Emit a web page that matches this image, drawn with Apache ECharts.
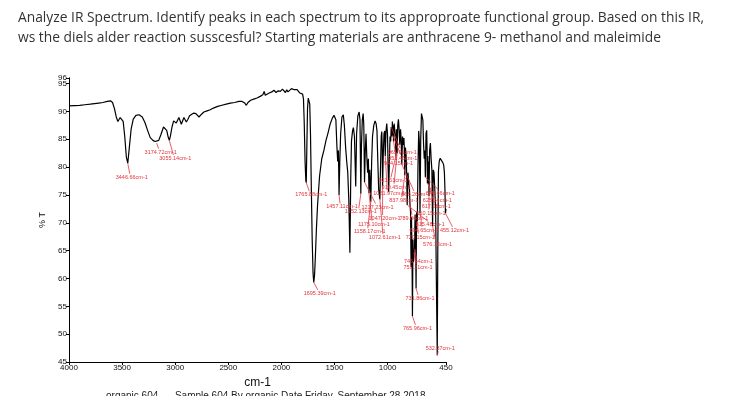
<!DOCTYPE html>
<html>
<head>
<meta charset="utf-8">
<script src="https://cdn.jsdelivr.net/npm/echarts@6/dist/echarts.min.js"></script>
<style>
  html, body { margin: 0; padding: 0; background: #fff; }
  #chart { width: 750px; height: 396px; }
</style>
</head>
<body>
<div id="chart"></div>
<script>
// IR spectrum: [wavenumber cm-1, %T]
const spectrumPoints = [
  [4000, 91.0], [3950, 91.05], [3900, 91.1], [3850, 91.2], [3800, 91.3], [3760, 91.4], [3720, 91.5],
  [3680, 91.6], [3640, 91.8], [3610, 91.9], [3590, 91.6], [3572, 90.5], [3555, 89.0], [3540, 88.2],
  [3528, 88.4], [3518, 88.9], [3505, 89.0], [3490, 88.2], [3475, 85.5], [3460, 81.8], [3446.66, 80.7],
  [3432, 83.5], [3415, 86.8], [3395, 88.6], [3370, 89.3], [3340, 89.4], [3310, 89.0], [3285, 88.0],
  [3260, 86.6], [3235, 85.3], [3210, 84.8], [3190, 84.6], [3174.72, 84.3], [3155, 84.8], [3135, 85.8],
  [3110, 87.2], [3095, 87.4], [3080, 86.6], [3065, 85.3], [3055.14, 84.8], [3045, 85.6], [3030, 87.2],
  [3015, 88.3], [3002, 88.6], [2990, 87.9], [2978, 87.9], [2965, 88.9], [2953, 88.7], [2942, 87.7],
  [2930, 87.8], [2918, 88.9], [2906, 88.8], [2895, 88.1], [2880, 88.6], [2865, 89.2], [2848, 89.5],
  [2825, 89.7], [2805, 89.6], [2790, 89.4], [2776, 89.0], [2766, 88.9], [2752, 89.5], [2730, 89.9],
  [2700, 90.1], [2670, 90.3], [2640, 90.6], [2600, 90.9], [2560, 91.1], [2520, 91.3], [2480, 91.5],
  [2440, 91.6], [2400, 91.8], [2370, 91.8], [2345, 91.5], [2330, 91.1], [2315, 91.6], [2290, 92.0],
  [2260, 92.2], [2230, 92.4], [2200, 92.7], [2175, 93.0], [2162, 93.6], [2152, 92.9], [2140, 93.2],
  [2115, 93.3], [2090, 93.5], [2070, 93.8], [2050, 93.4], [2030, 93.7], [2010, 93.6], [1990, 94.0],
  [1975, 93.8], [1962, 93.4], [1950, 93.9], [1938, 93.5], [1922, 93.8], [1905, 94.1], [1890, 94.4],
  [1878, 93.9], [1866, 93.6], [1852, 93.9], [1840, 93.7], [1826, 93.3], [1812, 93.4], [1800, 93.1],
  [1792, 92.2], [1785, 88.0], [1777, 81.0], [1770, 77.6], [1765.88, 77.2], [1760, 84.0], [1754, 90.5],
  [1747, 92.4], [1740, 92.6], [1733, 91.3], [1726, 86.0], [1718, 76.0], [1710, 67.0], [1702, 61.0],
  [1695.39, 59.3], [1688, 60.5], [1680, 64.0], [1670, 69.0], [1660, 73.0], [1650, 75.8], [1640, 78.5],
  [1620, 81.5], [1600, 83.0], [1580, 84.8], [1560, 86.2], [1540, 87.8], [1520, 88.8], [1505, 89.3],
  [1495, 89.5], [1487, 88.5], [1478, 84.0], [1470, 81.0], [1463, 83.0], [1457.11, 75.0], [1450, 81.0],
  [1442, 86.0], [1430, 89.0], [1417, 89.4], [1407, 87.5], [1395, 83.5], [1385, 81.0], [1375, 79.0],
  [1365, 74.0], [1355.0, 64.6], [1347, 78.0], [1340, 84.7], [1330, 86.5], [1322, 87.1], [1312, 85.5],
  [1300, 76.5], [1292, 86.0], [1280, 89.2], [1268, 89.9], [1260, 88.5], [1252.13, 75.2], [1246, 84.0],
  [1238, 88.5], [1230, 89.6], [1224, 87.5], [1217.23, 77.3], [1210, 83.0], [1203, 86.0], [1196, 82.0],
  [1188, 79.0], [1181, 81.5], [1175.1, 75.3], [1168, 79.5], [1163, 77.0], [1158.17, 73.8], [1150, 81.0],
  [1142, 85.5], [1130, 87.5], [1118, 88.3], [1108, 87.8], [1100, 86.5], [1092, 81.0], [1084, 76.0],
  [1072.61, 74.2], [1066, 80.5], [1060, 85.5], [1055, 86.4], [1051, 84.0], [1047.2, 76.5], [1041, 82.0],
  [1034, 86.0], [1027, 86.5], [1021.97, 82.0], [1015, 86.5], [1008, 87.8], [1001, 86.0], [995, 80.0],
  [989.86, 75.5], [983, 81.0], [977, 85.5], [971, 84.6], [965.91, 87.2], [959, 85.5], [955, 88.2],
  [951.45, 85.7], [947, 87.5], [944.15, 84.6], [938, 87.8], [932, 86.5], [926, 85.2], [921.51, 82.0],
  [916, 86.8], [910.45, 82.5], [904, 87.6], [898, 88.6], [892, 87.0], [885, 84.0], [878, 86.8],
  [872, 85.0], [866.26, 80.5], [859, 85.5], [852, 84.0], [846, 85.2], [842, 83.0], [837.98, 78.5],
  [832, 83.5], [826, 82.2], [820, 78.5], [815.48, 73.2], [808, 79.0], [800, 77.0], [794, 76.0],
  [789.86, 73.5], [784, 72.0], [779, 62.0], [775, 71.0], [770, 64.0], [765.96, 53.2], [761, 67.0],
  [756, 63.0], [751.21, 64.6], [746.44, 65.3], [741, 71.5], [736, 67.0], [731.86, 58.2], [727, 72.0],
  [720.15, 70.3], [714, 80.0], [707, 86.5], [701, 84.5], [694.65, 71.7], [688, 85.0], [681, 89.6],
  [674, 89.8], [668, 88.5], [661, 84.0], [655, 81.5], [649, 83.0], [644.46, 78.2], [638, 86.0],
  [632, 86.6], [628, 83.0], [625.34, 77.1], [621, 82.0], [617.28, 77.0], [613, 81.0], [610.15, 74.8],
  [604, 83.0], [597, 84.3], [590, 81.5], [583, 79.5], [576.18, 69.4], [570, 79.5], [563, 79.0],
  [556, 76.2], [548, 73.0], [541, 60.0], [532.37, 46.2], [527, 66.0], [521, 79.3], [514, 81.0],
  [505, 81.6], [495, 81.8], [488, 81.6], [480, 80.8], [472, 80.4], [465, 79.0], [460, 76.0],
  [455.12, 71.7], [450, 72.5]
];

// labelled peaks
const peakWavenumbers = [
  3446.66, 3174.72, 3055.14, 1765.88, 1695.39, 1457.11, 1252.13, 1217.23, 1175.10, 1158.17,
  1072.61, 1047.20, 789.86, 1021.97, 965.91, 951.45, 944.15, 921.51, 910.45, 866.26,
  837.98, 815.48, 765.96, 751.21, 746.44, 731.86, 720.15, 694.65, 455.12, 644.46,
  625.34, 617.28, 610.15, 576.18, 532.37
];
const peakTransmittance = [
  80.7, 84.3, 84.8, 77.2, 59.3, 75.0, 75.2, 77.3, 75.3, 73.8,
  74.2, 76.5, 73.5, 82.0, 87.2, 85.7, 84.6, 82.0, 82.5, 80.5,
  78.5, 73.2, 53.2, 64.6, 65.3, 58.2, 70.3, 71.7, 71.7, 78.2,
  77.1, 77.0, 74.8, 69.4, 46.2
];
const peakLabels = peakWavenumbers.map(w => w.toFixed(2) + 'cm-1');

// pixel offset of each label from its peak (layout only)
const labelOffsets = [
  [4, 14], [4, 9], [6, 18], [5, 12], [6, 11], [3, 12], [0, 18], [13, 25], [5, 31], [-1, 30],
  [5, 38], [2, 32], [4, 15], [4, 38], [11, 25], [10, 23], [5, 22], [-3, 25], [-1, 34], [14, 30],
  [-1, 25], [23, 20], [5, 12], [4, 15], [4, 13], [4, 10], [3, 16], [4, 17], [9, 17], [15, 16],
  [10, 17], [8, 23], [2, 17], [5, 18], [3, -7]
];

const xTicks = [4000, 3500, 3000, 2500, 2000, 1500, 1000, 450];
const yTicks = [45, 50, 55, 60, 65, 70, 75, 80, 85, 90, 95];
const yTopTick = [96];

const RED = '#e3343c';
const axisFont = "'Liberation Sans Narrow', 'Arial Narrow', 'Liberation Sans', sans-serif";

const yAxisBase = {
  type: 'value', min: 45, max: 96, position: 'left',
  axisLine: { show: true, lineStyle: { color: '#000', width: 1 } },
  splitLine: { show: false }
};

const chart = echarts.init(document.getElementById('chart'), null, { renderer: 'canvas' });

chart.setOption({
  animation: false,
  backgroundColor: '#fff',
  grid: { left: 69, right: 304, top: 78, bottom: 34 },
  graphic: [
    {
      type: 'text', left: 18, top: 8,
      style: {
        text: 'Analyze IR Spectrum. Identify peaks in each spectrum to its approproate functional group. Based on this IR,\nws the diels alder reaction susscesful? Starting materials are anthracene 9- methanol and maleimide',
        fill: '#333', font: "13.8px 'Open Sans', sans-serif", lineHeight: 20
      }
    },
    {
      type: 'text', left: 106, top: 391,
      style: {
        text: 'organic 604      Sample 604 By organic Date Friday, September 28 2018',
        fill: '#222', font: '10px ' + axisFont
      }
    }
  ],
  xAxis: {
    type: 'value', min: 450, max: 4000, inverse: true,
    name: 'cm-1', nameLocation: 'middle', nameGap: 14,
    nameTextStyle: { fontSize: 12, color: '#111', fontFamily: axisFont },
    axisLine: { show: true, lineStyle: { color: '#000', width: 1 } },
    axisTick: { show: true, length: 3, customValues: xTicks, lineStyle: { color: '#000' } },
    axisLabel: {
      customValues: xTicks, fontSize: 8, color: '#111', margin: 2, fontFamily: axisFont,
      showMinLabel: true, showMaxLabel: true, formatter: v => String(v)
    },
    splitLine: { show: false }
  },
  yAxis: [
    Object.assign({}, yAxisBase, {
      name: '% T', nameLocation: 'middle', nameGap: 17, nameRotate: 90,
      nameTextStyle: { fontSize: 9, color: '#111', fontFamily: axisFont },
      axisTick: { show: true, length: 3, customValues: yTicks, lineStyle: { color: '#000' } },
      axisLabel: {
        customValues: yTicks, fontSize: 8, color: '#111', margin: 2, fontFamily: axisFont,
        formatter: v => String(v)
      }
    }),
    Object.assign({}, yAxisBase, {
      axisTick: { show: true, length: 3, customValues: yTopTick, lineStyle: { color: '#000' } },
      axisLabel: {
        customValues: yTopTick, fontSize: 8, color: '#111', margin: 2, fontFamily: axisFont,
        showMaxLabel: true, formatter: v => String(v)
      }
    })
  ],
  series: [
    {
      type: 'line',
      data: spectrumPoints,
      showSymbol: false,
      lineStyle: { color: '#000', width: 1.2 },
      z: 2
    },
    {
      type: 'custom',
      z: 3,
      data: peakWavenumbers.map((w, i) => [w, peakTransmittance[i]]),
      renderItem: function (params, api) {
        const p = api.coord([api.value(0), api.value(1)]);
        const off = labelOffsets[params.dataIndex];
        const endY = off[1] > 0 ? off[1] - 3.5 : off[1] + 3;
        return {
          type: 'group',
          children: [
            {
              type: 'line',
              shape: { x1: p[0], y1: p[1], x2: p[0] + off[0] - 2, y2: p[1] + endY },
              style: { stroke: RED, lineWidth: 0.8 }
            },
            {
              type: 'text',
              x: p[0] + off[0], y: p[1] + off[1],
              style: {
                text: peakLabels[params.dataIndex],
                fill: RED, align: 'center', verticalAlign: 'middle',
                font: '5.5px ' + axisFont
              }
            }
          ]
        };
      }
    }
  ]
});
</script>
</body>
</html>
